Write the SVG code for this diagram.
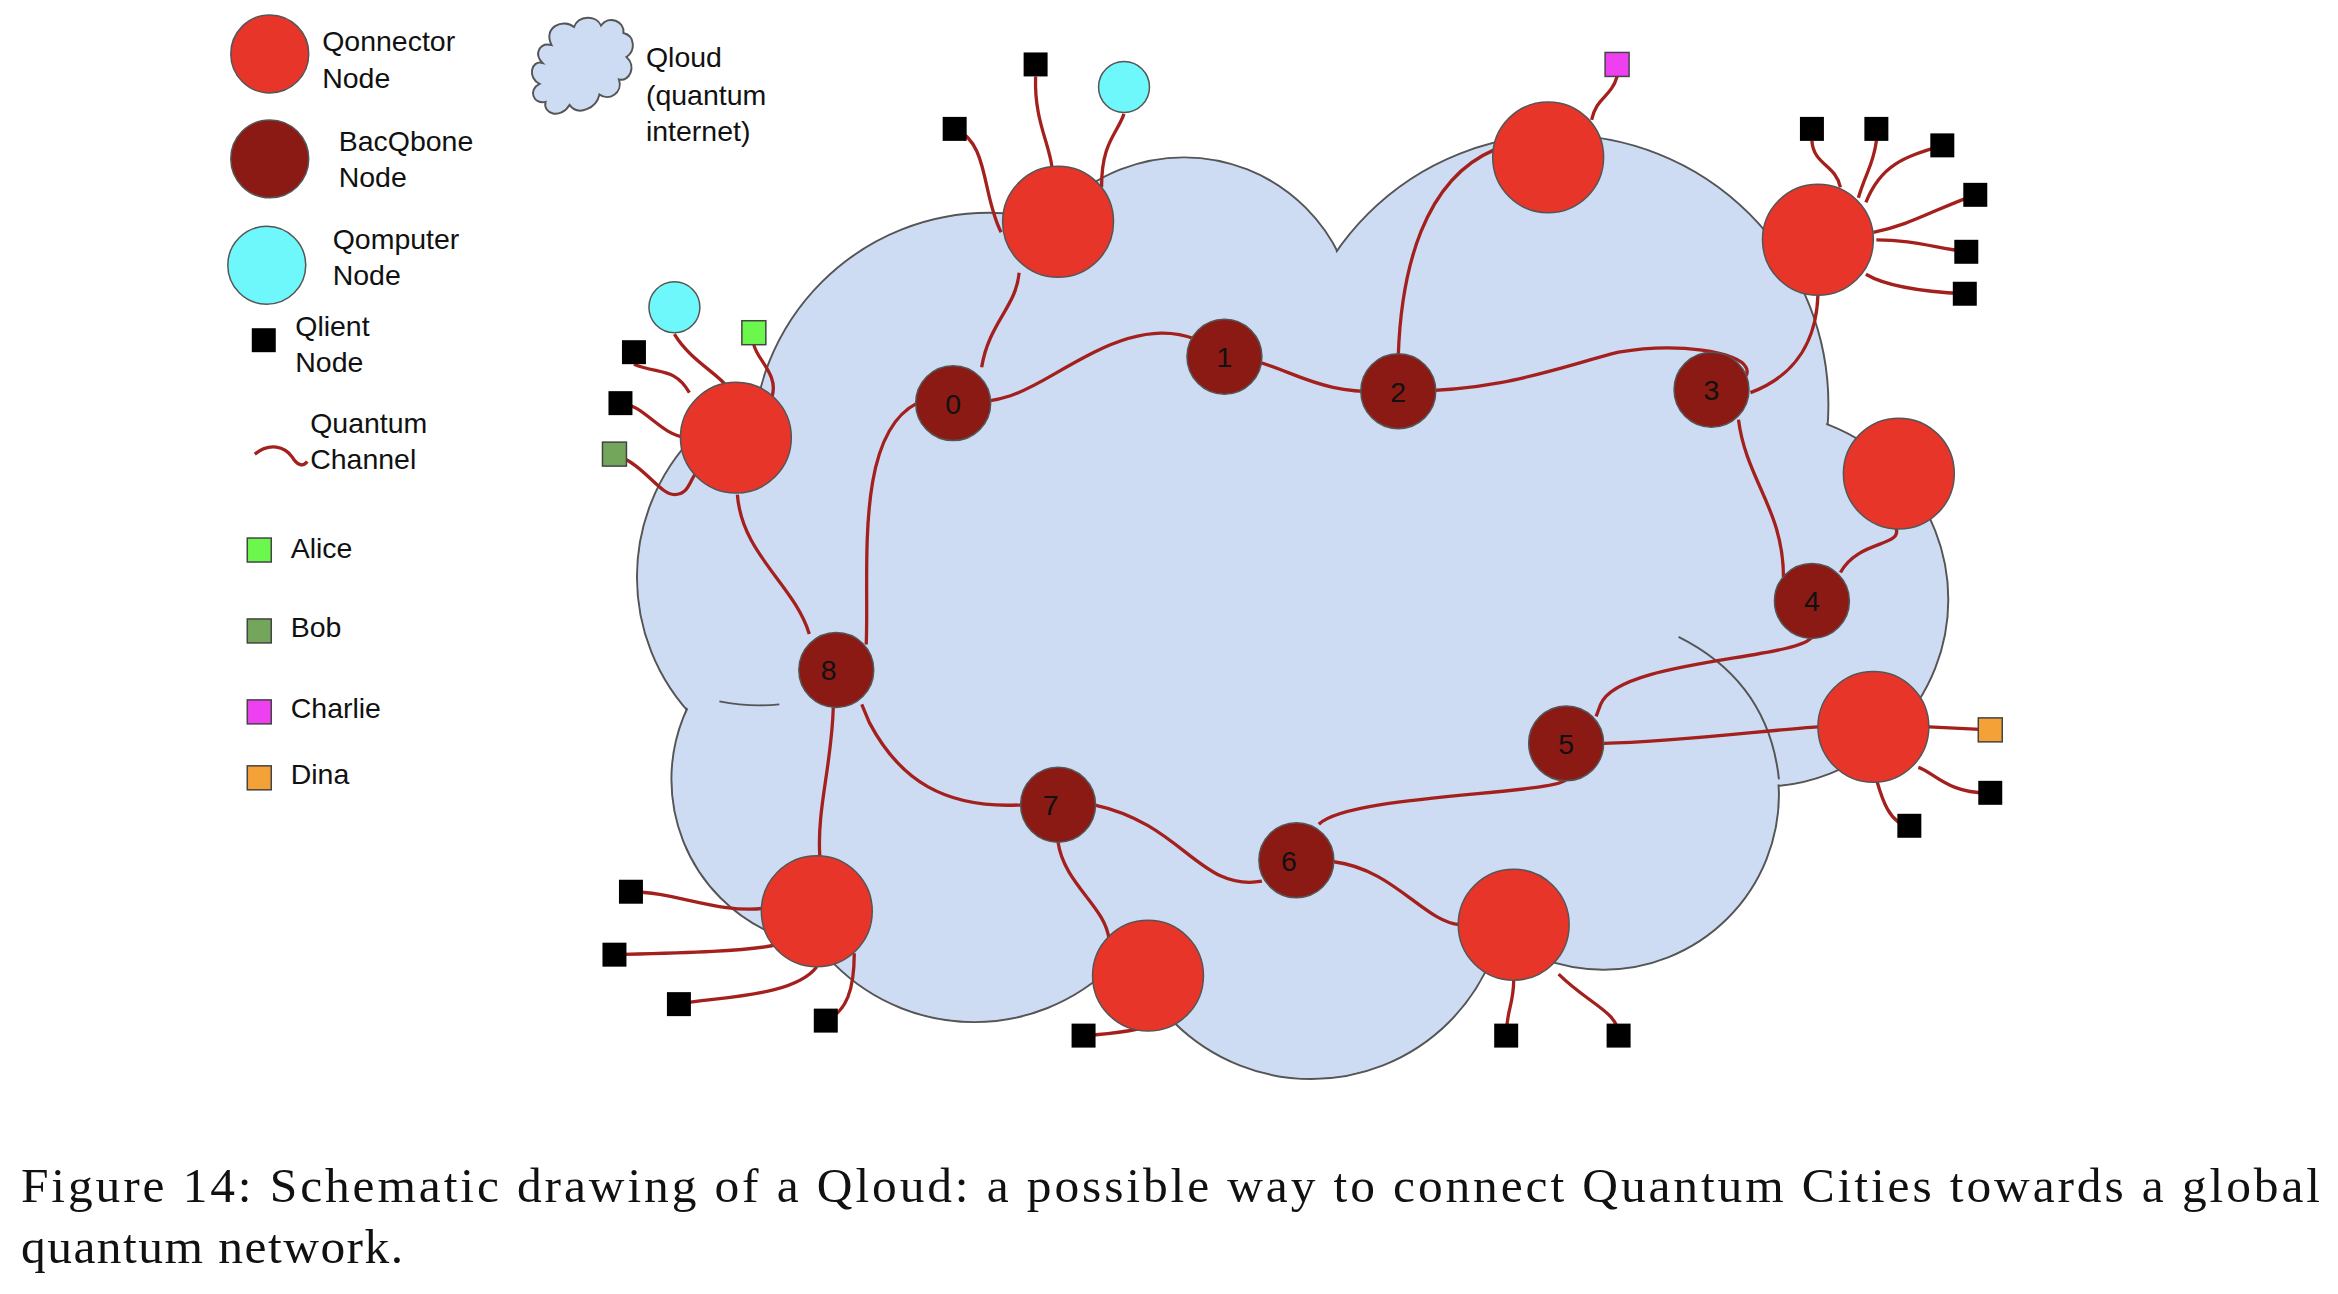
<svg xmlns="http://www.w3.org/2000/svg" width="2338" height="1294" viewBox="0 0 2338 1294">
<style>
.cl{fill:#cddbf3;stroke:#555;stroke-width:1.3}
.cf{fill:#cddbf3}
.q{fill:#e8352a;stroke:#555;stroke-width:1}
.b{fill:#8b1a14;stroke:#555;stroke-width:1}
.c{fill:#6ff8fb;stroke:#555;stroke-width:1}
.k{fill:#000}
.ch{fill:none;stroke:#a3201c;stroke-width:2.2}
.t{font-family:"Liberation Sans",Arial,sans-serif;font-size:19px;fill:#111}
.n{font-family:"Liberation Sans",Arial,sans-serif;font-size:19px;fill:#111;text-anchor:middle}
.cap{font-family:"Liberation Serif","Times New Roman",serif;font-size:33px;fill:#111}
</style>
<rect width="2338" height="1294" fill="#fff"/>
<g transform="scale(1.4987)">
<g id="cloud">
<circle class="cl" cx="660" cy="300" r="158"/>
<circle class="cl" cx="790" cy="220" r="115"/>
<circle class="cl" cx="1040" cy="270" r="180"/>
<circle class="cl" cx="1175" cy="400" r="125"/>
<circle class="cl" cx="1070" cy="530" r="117"/>
<circle class="cl" cx="875" cy="590" r="130"/>
<circle class="cl" cx="650" cy="550" r="132"/>
<circle class="cl" cx="560" cy="385" r="135"/>
<circle class="cl" cx="560" cy="520" r="112"/>
<circle class="cf" cx="660" cy="300" r="157"/>
<circle class="cf" cx="790" cy="220" r="114"/>
<circle class="cf" cx="1040" cy="270" r="179"/>
<circle class="cf" cx="1175" cy="400" r="124"/>
<circle class="cf" cx="1070" cy="530" r="116"/>
<circle class="cf" cx="875" cy="590" r="129"/>
<circle class="cf" cx="650" cy="550" r="131"/>
<circle class="cf" cx="560" cy="385" r="134"/>
<circle class="cf" cx="560" cy="520" r="111"/>
<ellipse class="cf" cx="850" cy="400" rx="340" ry="220"/>
<path d="M1120 425 Q1180 455 1187 520" fill="none" stroke="#555" stroke-width="1.3"/>
<path d="M480 468 Q500 472 520 470" fill="none" stroke="#555" stroke-width="1.3"/>
</g>
<g id="connectors">
<path class="ch" d="M636 269 C680 270 690 255 730 235 C760 220 790 215 817 238"/>
<path class="ch" d="M817 238 C860 240 870 265 933 261"/>
<path class="ch" d="M933 261 C1000 262 1040 245 1080 235 C1120 228 1160 235 1165 245 C1170 255 1150 258 1142 260"/>
<path class="ch" d="M1160 280 C1165 320 1190 340 1190 385"/>
<path class="ch" d="M1209 425 C1200 440 1080 440 1068 470 L1065 478"/>
<path class="ch" d="M1045 520 C1040 530 900 530 880 550"/>
<path class="ch" d="M842 588 C800 595 790 550 730 537"/>
<path class="ch" d="M682 537 C630 540 600 520 580 482 L575 470"/>
<path class="ch" d="M578 430 C580 380 570 290 612 269"/>
<path class="ch" d="M1070 496 C1120 495 1180 487 1213 485"/>
<path class="ch" d="M1228 382 C1240 360 1270 365 1265 352"/>
<path class="ch" d="M1168 262 C1200 250 1212 225 1213 197"/>
<path class="ch" d="M933 237 C935 180 950 120 997 100"/>
<path class="ch" d="M655 245 C660 215 678 205 680 182"/>
<path class="ch" d="M540 423 C530 390 495 370 492 330"/>
<path class="ch" d="M556 472 C555 510 545 540 547 571"/>
<path class="ch" d="M706 562 C710 590 738 605 740 627"/>
<path class="ch" d="M890 575 C930 580 950 615 974 617"/>
<path class="ch" d="M691 51 C690 80 700 95 702 112"/>
<path class="ch" d="M637 86 C660 95 655 130 668 155"/>
<path class="ch" d="M750 76 C745 90 735 95 735 125"/>
<path class="ch" d="M1079 51 C1075 65 1065 65 1062 80"/>
<path class="ch" d="M1209 94 C1210 110 1225 110 1228 125"/>
<path class="ch" d="M1252 94 C1250 110 1245 115 1240 132"/>
<path class="ch" d="M1296 97 C1270 105 1255 110 1245 135"/>
<path class="ch" d="M1318 130 C1290 140 1275 150 1250 155"/>
<path class="ch" d="M1312 168 C1290 165 1275 160 1252 160"/>
<path class="ch" d="M1311 196 C1290 195 1260 192 1245 183"/>
<path class="ch" d="M450 223 C460 240 480 250 485 258"/>
<path class="ch" d="M503 230 C505 240 520 250 515 265"/>
<path class="ch" d="M423 243 C440 250 450 245 460 262"/>
<path class="ch" d="M414 269 C430 270 440 290 458 292"/>
<path class="ch" d="M410 303 C430 310 440 330 450 330 C460 330 460 320 465 315"/>
<path class="ch" d="M1328 487 L1287 485"/>
<path class="ch" d="M1328 529 C1300 530 1290 515 1280 512"/>
<path class="ch" d="M1274 551 C1260 550 1255 530 1252 520"/>
<path class="ch" d="M1080 691 C1080 675 1060 670 1040 650"/>
<path class="ch" d="M1005 691 C1005 675 1010 670 1010 654"/>
<path class="ch" d="M723 691 C740 690 760 688 775 682"/>
<path class="ch" d="M551 681 C565 675 570 660 570 636"/>
<path class="ch" d="M453 670 C480 665 530 665 545 645"/>
<path class="ch" d="M410 637 C450 636 500 635 520 630"/>
<path class="ch" d="M421 595 C450 595 480 610 510 606"/>
</g>
<g id="q-top"><circle class="q" cx="706" cy="148" r="37"/></g>
<g id="q-charlie"><circle class="q" cx="1033" cy="105" r="37"/></g>
<g id="q-ne"><circle class="q" cx="1213" cy="160" r="37"/></g>
<g id="q-e"><circle class="q" cx="1267" cy="316" r="37"/></g>
<g id="q-dina"><circle class="q" cx="1250" cy="485" r="37"/></g>
<g id="q-s"><circle class="q" cx="1010" cy="617" r="37"/></g>
<g id="q-sw"><circle class="q" cx="766" cy="651" r="37"/></g>
<g id="q-w"><circle class="q" cx="545" cy="608" r="37"/></g>
<g id="q-alice"><circle class="q" cx="491" cy="292" r="37"/></g>
<g id="b0"><circle class="b" cx="636" cy="269" r="25"/><text class="n" x="636" y="276">0</text></g>
<g id="b1"><circle class="b" cx="817" cy="238" r="25"/><text class="n" x="817" y="245">1</text></g>
<g id="b2"><circle class="b" cx="933" cy="261" r="25"/><text class="n" x="933" y="268">2</text></g>
<g id="b3"><circle class="b" cx="1142" cy="260" r="25"/><text class="n" x="1142" y="267">3</text></g>
<g id="b4"><circle class="b" cx="1209" cy="401" r="25"/><text class="n" x="1209" y="408">4</text></g>
<g id="b5"><circle class="b" cx="1045" cy="496" r="25"/><text class="n" x="1045" y="503">5</text></g>
<g id="b6"><circle class="b" cx="865" cy="574" r="25"/><text class="n" x="860" y="581">6</text></g>
<g id="b7"><circle class="b" cx="706" cy="537" r="25"/><text class="n" x="701" y="544">7</text></g>
<g id="b8"><circle class="b" cx="558" cy="447" r="25"/><text class="n" x="553" y="454">8</text></g>
<g id="comp1"><circle class="c" cx="750" cy="58" r="17"/></g>
<g id="comp2"><circle class="c" cx="450" cy="205" r="17"/></g>
<g id="clients">
<rect class="k" x="683" y="35" width="16" height="16"/>
<rect class="k" x="629" y="78" width="16" height="16"/>
<rect x="1071" y="35" width="16" height="16" fill="#ee3ff0" stroke="#444"/>
<rect class="k" x="1201" y="78" width="16" height="16"/>
<rect class="k" x="1244" y="78" width="16" height="16"/>
<rect class="k" x="1288" y="89" width="16" height="16"/>
<rect class="k" x="1310" y="122" width="16" height="16"/>
<rect class="k" x="1304" y="160" width="16" height="16"/>
<rect class="k" x="1303" y="188" width="16" height="16"/>
<rect class="k" x="415" y="227" width="16" height="16"/>
<rect class="k" x="406" y="261" width="16" height="16"/>
<rect x="402" y="295" width="16" height="16" fill="#73a55b" stroke="#444"/>
<rect x="495" y="214" width="16" height="16" fill="#6cf74c" stroke="#444"/>
<rect x="1320" y="479" width="16" height="16" fill="#f4a137" stroke="#444"/>
<rect class="k" x="1320" y="521" width="16" height="16"/>
<rect class="k" x="1266" y="543" width="16" height="16"/>
<rect class="k" x="1072" y="683" width="16" height="16"/>
<rect class="k" x="997" y="683" width="16" height="16"/>
<rect class="k" x="715" y="683" width="16" height="16"/>
<rect class="k" x="543" y="673" width="16" height="16"/>
<rect class="k" x="445" y="662" width="16" height="16"/>
<rect class="k" x="402" y="629" width="16" height="16"/>
<rect class="k" x="413" y="587" width="16" height="16"/>
</g>
<g id="legend">
<circle class="q" cx="180" cy="36" r="26"/><text class="t" x="215" y="34">Qonnector</text><text class="t" x="215" y="59">Node</text>
<circle class="b" cx="180" cy="106" r="26"/><text class="t" x="226" y="101">BacQbone</text><text class="t" x="226" y="125">Node</text>
<circle class="c" cx="178" cy="177" r="26"/><text class="t" x="222" y="166">Qomputer</text><text class="t" x="222" y="190">Node</text>
<rect class="k" x="168" y="219" width="16" height="16"/><text class="t" x="197" y="224">Qlient</text><text class="t" x="197" y="248">Node</text>
<path class="ch" d="M170 303 C180 295 190 298 195 305 C198 310 202 312 205 308"/><text class="t" x="207" y="289">Quantum</text><text class="t" x="207" y="313">Channel</text>
<rect x="165" y="359" width="16" height="16" fill="#6cf74c" stroke="#444"/><text class="t" x="194" y="372">Alice</text>
<rect x="165" y="413" width="16" height="16" fill="#73a55b" stroke="#444"/><text class="t" x="194" y="425">Bob</text>
<rect x="165" y="467" width="16" height="16" fill="#ee3ff0" stroke="#444"/><text class="t" x="194" y="479">Charlie</text>
<rect x="165" y="511" width="16" height="16" fill="#f4a137" stroke="#444"/><text class="t" x="194" y="523">Dina</text>
<path class="cl" d="M368 30 C362 18 376 12 383 18 C386 10 398 10 401 17 C406 10 417 14 416 22 C424 24 424 34 418 38 C425 44 420 55 413 53 C416 62 406 68 400 63 C398 72 386 78 380 70 C374 80 362 76 364 68 C356 70 352 60 360 56 C352 52 354 40 362 42 C356 36 360 28 368 30 Z"/>
<text class="t" x="431" y="45">Qloud</text><text class="t" x="431" y="70">(quantum</text><text class="t" x="431" y="94">internet)</text>
</g>
<text class="cap" x="14" y="802" textLength="1534" lengthAdjust="spacing">Figure 14: Schematic drawing of a Qloud: a possible way to connect Quantum Cities towards a global</text>
<text class="cap" x="14" y="843" textLength="255" lengthAdjust="spacing">quantum network.</text>
</g>
</svg>
